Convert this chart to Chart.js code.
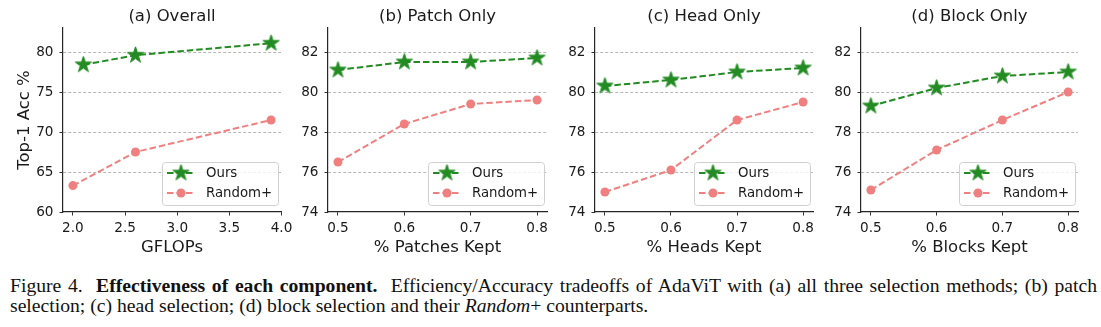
<!DOCTYPE html>
<html>
<head>
<meta charset="utf-8">
<script src="https://cdn.jsdelivr.net/npm/chart.js@4/dist/chart.umd.min.js"></script>
<style>
  html, body { margin: 0; padding: 0; background: #fff; }
  #wrap { position: relative; width: 1101px; height: 327px; overflow: hidden; background: #fff; }
  canvas { position: absolute; top: 0; }
  .cap { position: absolute; left: 10px; font-family: "Liberation Serif", "Times New Roman", serif; color: #111; white-space: nowrap; line-height: 19px; }
</style>
</head>
<body>
<div id="wrap">
  <canvas id="c0"></canvas>
  <canvas id="c1"></canvas>
  <canvas id="c2"></canvas>
  <canvas id="c3"></canvas>
  <div class="cap" id="cap1" style="top:276px"><span id="cap1s">Figure 4.&nbsp; <b>Effectiveness of each component.</b>&nbsp; Efficiency/Accuracy tradeoffs of AdaViT with (a) all three selection methods; (b) patch</span></div>
  <div class="cap" id="cap2" style="top:296px">selection; (c) head selection; (d) block selection and their <i>Random</i>+ counterparts.</div>
</div>
<script>
// ---------------- data ----------------
const panelTitles = ['(a) Overall', '(b) Patch Only', '(c) Head Only', '(d) Block Only'];
const xAxisTitles = ['GFLOPs', '% Patches Kept', '% Heads Kept', '% Blocks Kept'];
const yAxisTitle = 'Top-1 Acc %';
const seriesNames = ['Ours', 'Random+'];

const overallOursGflops = [2.1, 2.6, 3.9];
const overallOursAcc = [78.4, 79.6, 81.1];
const overallRandomGflops = [2.0, 2.6, 3.9];
const overallRandomAcc = [63.3, 67.5, 71.5];

const keptRatio = [0.5, 0.6, 0.7, 0.8];
const patchOurs = [81.1, 81.5, 81.5, 81.7];
const patchRandom = [76.5, 78.4, 79.4, 79.6];
const headOurs = [80.3, 80.6, 81.0, 81.2];
const headRandom = [75.0, 76.1, 78.6, 79.5];
const blockOurs = [79.3, 80.2, 80.8, 81.0];
const blockRandom = [75.1, 77.1, 78.6, 80.0];

const overallXTicks = [2.0, 2.5, 3.0, 3.5, 4.0];
const ratioXTicks = [0.5, 0.6, 0.7, 0.8];
const overallYTicks = [60, 65, 70, 75, 80];
const ratioYTicks = [74, 76, 78, 80, 82];

// ---------------- styling / layout ----------------
const FONT = 'DejaVu Sans';
Chart.defaults.font.family = FONT;
Chart.defaults.color = '#1a1a1a';

const GREEN = '#228B22';
const CORAL = '#F08080';
const AXIS = '#262626';

function makeStar(color, R) {
  const size = Math.ceil(2 * R + 4);
  const c = document.createElement('canvas');
  c.width = size; c.height = size;
  const g = c.getContext('2d');
  const cx = size / 2, cy = size / 2, r = R * 0.381966;
  g.beginPath();
  for (let i = 0; i < 10; i++) {
    const a = -Math.PI / 2 + i * Math.PI / 5;
    const rr = i % 2 === 0 ? R : r;
    const px = cx + rr * Math.cos(a), py = cy + rr * Math.sin(a);
    if (i === 0) g.moveTo(px, py); else g.lineTo(px, py);
  }
  g.closePath();
  g.fillStyle = color;
  g.fill();
  g.lineWidth = 1;
  g.strokeStyle = color;
  g.stroke();
  return c;
}
const starImg = makeStar(GREEN, 8.5);

const zip = (xs, ys) => xs.map((x, i) => ({ x: x, y: ys[i] }));

const panels = [
  { L: 63, R: 281, yw: 63, xMin: 1.905, xMax: 3.995, xTicks: overallXTicks, yMin: 60, yMax: 83, yTicks: overallYTicks,
    ours: zip(overallOursGflops, overallOursAcc), rand: zip(overallRandomGflops, overallRandomAcc), yTitle: true },
  { L: 328, R: 547, yw: 45, xMin: 0.485, xMax: 0.815, xTicks: ratioXTicks, yMin: 74, yMax: 83.2, yTicks: ratioYTicks,
    ours: zip(keptRatio, patchOurs), rand: zip(keptRatio, patchRandom) },
  { L: 595, R: 813, yw: 45, xMin: 0.485, xMax: 0.815, xTicks: ratioXTicks, yMin: 74, yMax: 83.2, yTicks: ratioYTicks,
    ours: zip(keptRatio, headOurs), rand: zip(keptRatio, headRandom) },
  { L: 861, R: 1078, yw: 45, xMin: 0.485, xMax: 0.815, xTicks: ratioXTicks, yMin: 74, yMax: 83.2, yTicks: ratioYTicks,
    ours: zip(keptRatio, blockOurs), rand: zip(keptRatio, blockRandom) }
];

const legendPlugin = {
  id: 'inLegend',
  afterDraw(chart) {
    const ctx = chart.ctx, ca = chart.chartArea;
    const w = 116, h = 43;
    const x0 = ca.right - 3 - w, y0 = ca.bottom - 7 - h;
    ctx.save();
    ctx.beginPath();
    if (ctx.roundRect) ctx.roundRect(x0 + 0.5, y0 + 0.5, w, h, 3); else ctx.rect(x0 + 0.5, y0 + 0.5, w, h);
    ctx.fillStyle = 'rgba(255,255,255,0.8)';
    ctx.fill();
    ctx.strokeStyle = '#d0d0d0';
    ctx.lineWidth = 1;
    ctx.stroke();
    chart.data.datasets.forEach((ds, i) => {
      const cy = y0 + 11 + i * 20;
      ctx.save();
      ctx.strokeStyle = ds.borderColor;
      ctx.lineWidth = ds.borderWidth;
      ctx.setLineDash(ds.borderDash);
      ctx.beginPath();
      ctx.moveTo(x0 + 5, cy);
      ctx.lineTo(x0 + 33, cy);
      ctx.stroke();
      ctx.restore();
      if (ds.pointStyle === 'circle') {
        ctx.beginPath(); ctx.arc(x0 + 19, cy, ds.pointRadius, 0, Math.PI * 2);
        ctx.fillStyle = ds.pointBackgroundColor; ctx.fill();
      } else {
        Chart.helpers.drawPoint(ctx, { pointStyle: ds.pointStyle, radius: ds.pointRadius, rotation: 0, borderWidth: 0 }, x0 + 19, cy);
      }
      ctx.fillStyle = '#1a1a1a';
      ctx.font = '13.3px "' + FONT + '"';
      ctx.textBaseline = 'middle';
      ctx.textAlign = 'left';
      ctx.fillText(ds.label, x0 + 44, cy + 0.5);
    });
    ctx.restore();
  }
};

panels.forEach((p, i) => {
  const cv = document.getElementById('c' + i);
  const W = (p.R - p.L) + 2 * p.yw;
  cv.width = W; cv.height = 260;
  cv.style.left = (p.L - p.yw) + 'px';
  cv.style.width = W + 'px'; cv.style.height = '260px';
  new Chart(cv, {
    type: 'line',
    data: {
      datasets: [
        { label: seriesNames[0], data: p.ours, borderColor: GREEN, backgroundColor: GREEN, borderWidth: 2, borderDash: [6.5, 3],
          pointStyle: starImg, pointRadius: 8, pointBackgroundColor: GREEN, pointBorderWidth: 0, tension: 0, fill: false, order: 1 },
        { label: seriesNames[1], data: p.rand, borderColor: CORAL, backgroundColor: CORAL, borderWidth: 2, borderDash: [6.5, 3],
          pointStyle: 'circle', pointRadius: 4.5, pointBackgroundColor: CORAL, pointBorderColor: CORAL, pointBorderWidth: 0, tension: 0, fill: false, order: 2 }
      ]
    },
    options: {
      responsive: false,
      animation: false,
      devicePixelRatio: 1,
      events: [],
      layout: { padding: { left: 0, right: p.yw, top: 0, bottom: 0 } },
      plugins: {
        legend: { display: false },
        tooltip: { enabled: false },
        title: { display: true, fullSize: false, text: panelTitles[i], color: '#1a1a1a',
          font: { family: FONT, size: 16.5, weight: 'normal' }, padding: { top: 6.5, bottom: 1.7 } }
      },
      scales: {
        x: {
          type: 'linear', position: 'bottom', min: p.xMin, max: p.xMax,
          afterBuildTicks: (s) => { s.ticks = p.xTicks.map(v => ({ value: v })); },
          afterFit: (s) => { s.height = 48; },
          ticks: { callback: (v) => Number(v).toFixed(1), font: { size: 13.6 }, color: '#1a1a1a', padding: 4.5, maxRotation: 0, autoSkip: false },
          grid: { display: true, drawOnChartArea: false, drawTicks: true, tickLength: 3.5, tickColor: '#333', tickWidth: 1 },
          border: { display: true, color: AXIS, width: 1.2 },
          title: { display: true, text: xAxisTitles[i], color: '#1a1a1a', font: { size: 16.5 }, padding: { top: 0, bottom: 2 } }
        },
        y: {
          type: 'linear', position: 'left', min: p.yMin, max: p.yMax,
          afterBuildTicks: (s) => { s.ticks = p.yTicks.map(v => ({ value: v })); },
          afterFit: (s) => { s.width = p.yw; },
          ticks: { callback: (v) => String(v), font: { size: 13.6 }, color: '#1a1a1a', padding: 6 },
          grid: { display: true, drawOnChartArea: true, drawTicks: true, tickLength: 3.5, tickWidth: 1, tickColor: '#333', lineWidth: 1,
            color: (c) => (c.index === 0 ? 'rgba(0,0,0,0)' : '#b8b8b8') },
          border: { display: true, color: AXIS, width: 1.2, dash: [3, 2] },
          title: { display: !!p.yTitle, text: yAxisTitle, color: '#1a1a1a', font: { size: 16.5 }, padding: { top: 15, bottom: 0 } }
        }
      }
    },
    plugins: [legendPlugin]
  });
});

// caption: size so line 2 matches, then justify line 1 to the figure width
(function fitCaption() {
  const s = document.getElementById('cap1s');
  const c1 = document.getElementById('cap1'), c2 = document.getElementById('cap2');
  let fs = 16;
  c1.style.fontSize = fs + 'px'; c2.style.fontSize = fs + 'px';
  const w = s.getBoundingClientRect().width;
  fs = fs * 1087 / w * 0.97;
  c1.style.fontSize = fs + 'px'; c2.style.fontSize = fs + 'px';
  const w2 = s.getBoundingClientRect().width;
  const spaces = (s.textContent.match(/[ \u00a0]/g) || []).length;
  if (spaces > 0) s.style.wordSpacing = ((1087 - w2) / spaces) + 'px';
})();
</script>
</body>
</html>
